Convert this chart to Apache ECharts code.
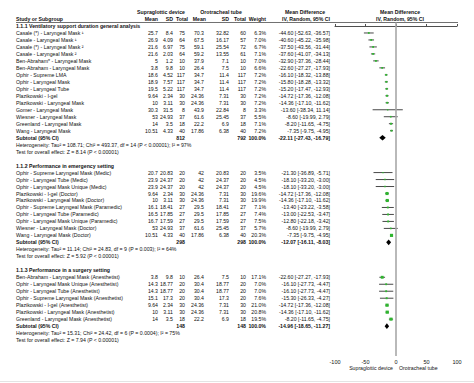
<!DOCTYPE html>
<html><head><meta charset="utf-8">
<script src="https://cdn.jsdelivr.net/npm/echarts@6/dist/echarts.min.js"></script>
<style>html,body{margin:0;padding:0;background:#fff}#c{width:474px;height:383px}</style>
</head><body><div id="c"></div>
<script>
// ---------- data ----------
const groupTitles = [
  "1.1.1 Ventilatory support duration general analysis",
  "1.1.2 Performance in emergency setting",
  "1.1.3 Performance in a surgery setting"
];
const studyNames = [
  "Casale (*) - Laryngeal Mask \u00b9","Casale - Laryngeal Mask \u00b9","Casale (*) - Laryngeal Mask \u00b2","Casale - Laryngeal Mask \u00b2",
  "Ben-Abraham* - Laryngeal Mask","Ben-Abraham - Laryngeal Mask","Ophir - Supreme LMA","Ophir - Laryngeal Mask","Ophir - Laryngeal Tube",
  "Plazikowski - I-gel","Plazikowski - Laryngeal Mask","Gomer - Laryngeal Mask","Wiesner - Laryngeal Mask","Greenland - Laryngeal Mask","Wang - Laryngeal Mask",
  "Ophir - Supreme Laryngeal Mask (Medic)","Ophir - Laryngeal Tube (Medic)","Ophir - Laryngeal Mask Unique (Medic)","Plazikowski - I-gel (Doctor)",
  "Plazikowski - Laryngeal Mask (Doctor)","Ophir - Supreme Laryngeal Mask (Paramedic)","Ophir - Laryngeal Tube (Paramedic)",
  "Ophir - Laryngeal Mask Unique (Paramedic)","Wiesner - Laryngeal Mask (Doctor)","Wang - Laryngeal Mask (Doctor)",
  "Ben-Abraham - Laryngeal Mask (Anesthetist)","Ophir - Laryngeal Mask Unique (Anesthetist)","Ophir - Laryngeal Tube (Anesthetist)",
  "Ophir - Supreme Laryngeal Mask (Anesthetist)","Plazikowski - I-gel (Anesthetist)","Plazikowski - Laryngeal Mask (Anesthetist)","Greenland - Laryngeal Mask (Anesthetist)"
];
const studyGroup = [0,0,0,0,0,0,0,0,0,0,0,0,0,0,0, 1,1,1,1,1,1,1,1,1,1, 2,2,2,2,2,2,2];
const supMean  = ["25.7","26.9","21.6","21.6","5","3.8","18.6","18.9","19.5","9.64","10","30.3","53","14","10.51",
                  "20.7","23.9","23.9","9.64","10","16.1","16.5","16.7","53","10.51",
                  "3.8","14.3","14.3","15.1","9.64","10","14"];
const supSD    = ["8.4","4.09","6.97","2.03","1.2","9.8","4.52","7.57","5.22","2.34","3.11","31.5","24.93","3.5","4.33",
                  "20.83","24.37","24.37","2.34","3.11","18.41","17.85","17.59","24.93","4.33",
                  "9.8","18.77","18.77","17.3","2.34","3.11","3.5"];
const supTotal = [75,64,75,64,10,10,117,117,117,30,30,8,37,18,40, 20,20,20,30,30,27,27,27,37,40, 10,20,20,20,30,30,18];
const oroMean  = ["70.3","67.5","59.1","59.2","37.9","26.4","34.7","34.7","34.7","24.36","24.36","43.9","61.6","22.2","17.86",
                  "42","42","42","24.36","24.36","29.5","29.5","29.5","61.6","17.86",
                  "26.4","30.4","30.4","30.4","24.36","24.36","22.2"];
const oroSD    = ["32.82","16.17","25.54","13.55","7.1","7.5","11.4","11.4","11.4","7.31","7.31","22.84","25.45","6.9","6.38",
                  "20.83","24.37","24.37","7.31","7.31","18.41","17.85","17.59","25.45","6.38",
                  "7.5","18.77","18.77","17.3","7.31","7.31","6.9"];
const oroTotal = [60,57,72,61,10,10,117,117,117,30,30,8,37,18,40, 20,20,20,30,30,27,27,27,37,40, 10,20,20,20,30,30,18];
const weightPct= [6.3,7.0,6.7,7.1,7.0,6.6,7.2,7.2,7.2,7.2,7.2,3.3,5.5,7.1,7.2,
                  3.5,4.5,4.5,19.6,19.9,7.1,7.4,7.5,5.7,20.3,
                  17.1,7.0,7.0,7.6,21.0,20.8,19.5];
const meanDiff = [-44.60,-40.60,-37.50,-37.60,-32.90,-22.60,-16.10,-15.80,-15.20,-14.72,-14.36,-13.60,-8.60,-8.20,-7.35,
                  -21.30,-18.10,-18.10,-14.72,-14.36,-13.40,-13.00,-12.80,-8.60,-7.35,
                  -22.60,-16.10,-16.10,-15.30,-14.72,-14.36,-8.20];
const ciLow    = [-52.63,-45.22,-43.56,-41.07,-37.36,-27.27,-18.32,-18.28,-17.47,-17.36,-17.10,-38.34,-19.99,-11.65,-9.75,
                  -36.89,-33.20,-33.20,-17.36,-17.10,-23.22,-22.53,-22.18,-19.99,-9.75,
                  -27.27,-27.73,-27.73,-26.33,-17.36,-17.10,-11.65];
const ciHigh   = [-36.57,-35.98,-31.44,-34.13,-28.44,-17.93,-13.88,-13.32,-12.93,-12.08,-11.62,11.14,2.79,-4.75,-4.95,
                  -5.71,-3.00,-3.00,-12.08,-11.62,-3.58,-3.47,-3.42,2.79,-4.95,
                  -17.93,-4.47,-4.47,-4.27,-12.08,-11.62,-4.75];
const subSupTotal = [812,298,148];
const subOroTotal = [792,298,148];
const subMD   = [-22.11,-12.07,-14.96];
const subLow  = [-27.43,-16.11,-18.65];
const subHigh = [-16.79,-8.03,-11.27];
const hetTexts = [
  "Heterogeneity: Tau\u00b2 = 108.71; Chi\u00b2 = 493.37, df = 14 (P < 0.00001); I\u00b2 = 97%",
  "Heterogeneity: Tau\u00b2 = 11.14; Chi\u00b2 = 24.83, df = 9 (P = 0.003); I\u00b2 = 64%",
  "Heterogeneity: Tau\u00b2 = 15.31; Chi\u00b2 = 24.42, df = 6 (P = 0.0004); I\u00b2 = 75%"
];
const testTexts = [
  "Test for overall effect: Z = 8.14 (P < 0.00001)",
  "Test for overall effect: Z = 5.92 (P < 0.00001)",
  "Test for overall effect: Z = 7.94 (P < 0.00001)"
];
const xTicks = [-100,-50,0,50,100];
const favourLeft = "Supraglottic device", favourRight = "Orotracheal tube";

// ---------- layout ----------
const FONT = "'Liberation Sans', Arial, sans-serif";
const FS = 5.2;
const col = {name:16, supMean:158, supSD:173, supTotal:185, oroMean:204, oroSD:229, oroTotal:246, weight:266, ci:330};
const ROW = 6.98, TOP = 22.5, AXIS_Y = 356;
const yMin = -0.5, yMax = yMin + (AXIS_Y - TOP) / ROW;

const fmt = v => v.toFixed(2);
const ciText = (m,l,h) => fmt(m) + " [" + fmt(l) + ", " + fmt(h) + "]";

const tableRows = [];   // {r, cells}
const forestData = [];  // [md, r, lo, hi, w, isSub]
let r = 0;
for (let g = 0; g < 3; g++) {
  tableRows.push({r, cells:[{t:groupTitles[g], x:col.name, a:'left', b:true}]});
  r++;
  for (let i = 0; i < studyNames.length; i++) {
    if (studyGroup[i] !== g) continue;
    tableRows.push({r, cells:[
      {t:studyNames[i], x:col.name, a:'left'},
      {t:supMean[i], x:col.supMean, a:'right'},
      {t:supSD[i], x:col.supSD, a:'right'},
      {t:String(supTotal[i]), x:col.supTotal, a:'right'},
      {t:oroMean[i], x:col.oroMean, a:'right'},
      {t:oroSD[i], x:col.oroSD, a:'right'},
      {t:String(oroTotal[i]), x:col.oroTotal, a:'right'},
      {t:weightPct[i].toFixed(1) + "%", x:col.weight, a:'right'},
      {t:ciText(meanDiff[i], ciLow[i], ciHigh[i]), x:col.ci, a:'right'}
    ]});
    forestData.push([meanDiff[i], r, ciLow[i], ciHigh[i], weightPct[i], 0]);
    r++;
  }
  tableRows.push({r, cells:[
    {t:"Subtotal (95% CI)", x:col.name, a:'left', b:true},
    {t:String(subSupTotal[g]), x:col.supTotal, a:'right', b:true},
    {t:String(subOroTotal[g]), x:col.oroTotal, a:'right', b:true},
    {t:"100.0%", x:col.weight, a:'right', b:true},
    {t:ciText(subMD[g], subLow[g], subHigh[g]), x:col.ci, a:'right', b:true}
  ]});
  forestData.push([subMD[g], r, subLow[g], subHigh[g], 100, 1]);
  r++;
  tableRows.push({r, cells:[{t:hetTexts[g], x:col.name, a:'left'}]}); r++;
  tableRows.push({r, cells:[{t:testTexts[g], x:col.name, a:'left'}]}); r++;
  r++;
}

function txt(t, x, y, align, bold, size) {
  return {type:'text', x:x, y:y, silent:true, style:{text:t, x:0, y:0, textAlign:align, textVerticalAlign:'middle', verticalAlign:'middle',
    fontSize:size || FS, fontFamily:FONT, fontWeight: bold ? 'bold' : 'normal', fill:'#111'}};
}

const chart = echarts.init(document.getElementById('c'), null, {renderer:'svg'});
chart.setOption({
  animation:false,
  backgroundColor:'#fff',
  grid:{left:335, width:122, top:TOP, height:AXIS_Y - TOP},
  xAxis:{type:'value', min:-100, max:100, interval:50,
    axisLine:{lineStyle:{color:'#222', width:0.8}},
    axisTick:{show:true, inside:true, length:2, lineStyle:{color:'#222', width:0.8}},
    axisLabel:{fontSize:5.5, fontFamily:FONT, color:'#111', margin:3, formatter: v => xTicks.includes(v) ? String(v) : ''},
    splitLine:{show:false}},
  yAxis:{type:'value', inverse:true, min:yMin, max:yMax, show:false, splitLine:{show:false}},
  graphic:[
    txt("Supraglottic device", 161, 12, 'center', true),
    txt("Orotracheal tube", 221, 12, 'center', true),
    txt("Mean Difference", 305, 12, 'center', true),
    txt("Mean Difference", 400, 12, 'center', true),
    txt("Study or Subgroup", col.name, 19, 'left', true),
    txt("Mean", col.supMean, 19, 'right', true),
    txt("SD", col.supSD, 19, 'right', true),
    txt("Total", col.supTotal + 3, 19, 'right', true),
    txt("Mean", col.oroMean + 2, 19, 'right', true),
    txt("SD", col.oroSD, 19, 'right', true),
    txt("Total", col.oroTotal, 19, 'right', true),
    txt("Weight", col.weight, 19, 'right', true),
    txt("IV, Random, 95% CI", col.ci, 19, 'right', true),
    txt("IV, Random, 95% CI", 400, 19, 'center', true),
    {type:'line', silent:true, shape:{x1:16, y1:22.5, x2:458, y2:22.5}, style:{stroke:'#333', lineWidth:0.7}},
    txt(favourLeft, 393, 368, 'right', false),
    txt(favourRight, 399, 368, 'left', false),
    {type:'line', silent:true, shape:{x1:0, y1:381.5, x2:474, y2:381.5}, style:{stroke:'#e4e4e4', lineWidth:1}}
  ],
  series:[
    {
      type:'custom', coordinateSystem:'cartesian2d', silent:true, clip:false,
      data: tableRows.map((row, i) => [0, row.r, i]),
      renderItem:(params, api) => {
        const row = tableRows[api.value(2)];
        const y = api.coord([0, api.value(1)])[1];
        return {type:'group', children: row.cells.map(c => txt(c.t, c.x, y, c.a, c.b))};
      }
    },
    {
      type:'custom', coordinateSystem:'cartesian2d', silent:true, clip:false,
      data: forestData,
      encode:{x:0, y:1},
      renderItem:(params, api) => {
        const md = api.value(0), rr = api.value(1), lo = api.value(2), hi = api.value(3), w = api.value(4), sub = api.value(5);
        const pL = api.coord([lo, rr]), pH = api.coord([hi, rr]), pM = api.coord([md, rr]);
        if (sub) {
          const h = api.size([0, 0.4])[1];
          return {type:'polygon', shape:{points:[[pL[0], pM[1]], [pM[0], pM[1]-h], [pH[0], pM[1]], [pM[0], pM[1]+h]]},
            style:{fill:'#000'}};
        }
        const s = 0.7 * Math.sqrt(w);
        return {type:'group', children:[
          {type:'line', shape:{x1:pL[0], y1:pL[1], x2:pH[0], y2:pH[1]}, style:{stroke:'#333', lineWidth:0.9}},
          {type:'rect', shape:{x:pM[0]-s/2, y:pM[1]-s/2, width:s, height:s}, style:{fill:'#2fb52f'}}
        ]};
      },
      markLine:{silent:true, symbol:'none', label:{show:false},
        lineStyle:{color:'#a8a8a8', width:1.6, type:'solid'},
        data:[{xAxis:0}]}
    }
  ]
});
</script>
</body></html>
